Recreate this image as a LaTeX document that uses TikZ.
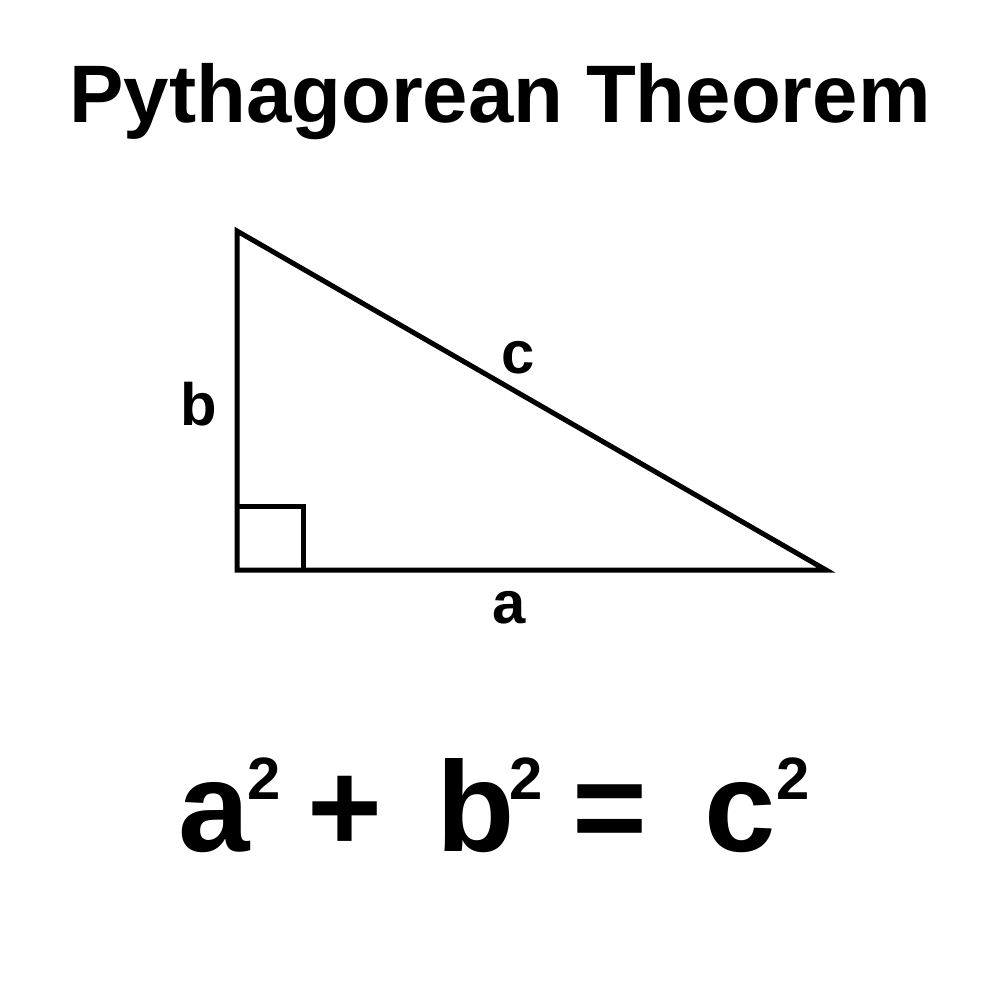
\documentclass[tikz,border=0pt]{standalone}
\usepackage{fontspec}
\setmainfont{Liberation Sans}
\usetikzlibrary{positioning}
\begin{document}
\begin{tikzpicture}[x=0.01cm,y=-0.01cm,
    side/.style={line width=0.05cm,line join=miter},
    ttl/.style={font=\fontsize{23.2}{27}\selectfont\bfseries,inner sep=0pt,anchor=base},
    lbl/.style={font=\fontsize{17}{20}\selectfont\bfseries,inner sep=0pt,anchor=base},
    big/.style={font=\fontsize{36.5}{40}\selectfont\bfseries,inner sep=0pt,anchor=base},
    pw/.style={font=\fontsize{17}{20}\selectfont\bfseries,inner sep=0pt,anchor=base}]
 \useasboundingbox (0,0) rectangle (1000,1000);
 \node[ttl] (title) at (500,122) {Pythagorean Theorem};
 % triangle
 \coordinate (top) at (237,231);
 \coordinate (rt) at (237,570);
 \coordinate (tip) at (826,570);
 \draw[side] (top) -- (rt) -- (tip) -- cycle;
 \draw[side] (rt) ++(0,-64) -| ++(66,64);
 \node[lbl] (sb) at (199,425) {b};
 \node[lbl] (sc) at (518,373) {c};
 \node[lbl] (sa) at (509,623) {a};
 % formula
 \node[big] (fa) at (214,851) {a};
 \node[pw] (fa2) at (264,799) {2};
 \node[big] (plus) at (345,851) {+};
 \node[big] (fb) at (476,851) {b};
 \node[pw] (fb2) at (526,799) {2};
 \node[big] (eq) at (610,851) {=};
 \node[big] (fc) at (740,851) {c};
 \node[pw] (fc2) at (793,799) {2};
\end{tikzpicture}
\end{document}
